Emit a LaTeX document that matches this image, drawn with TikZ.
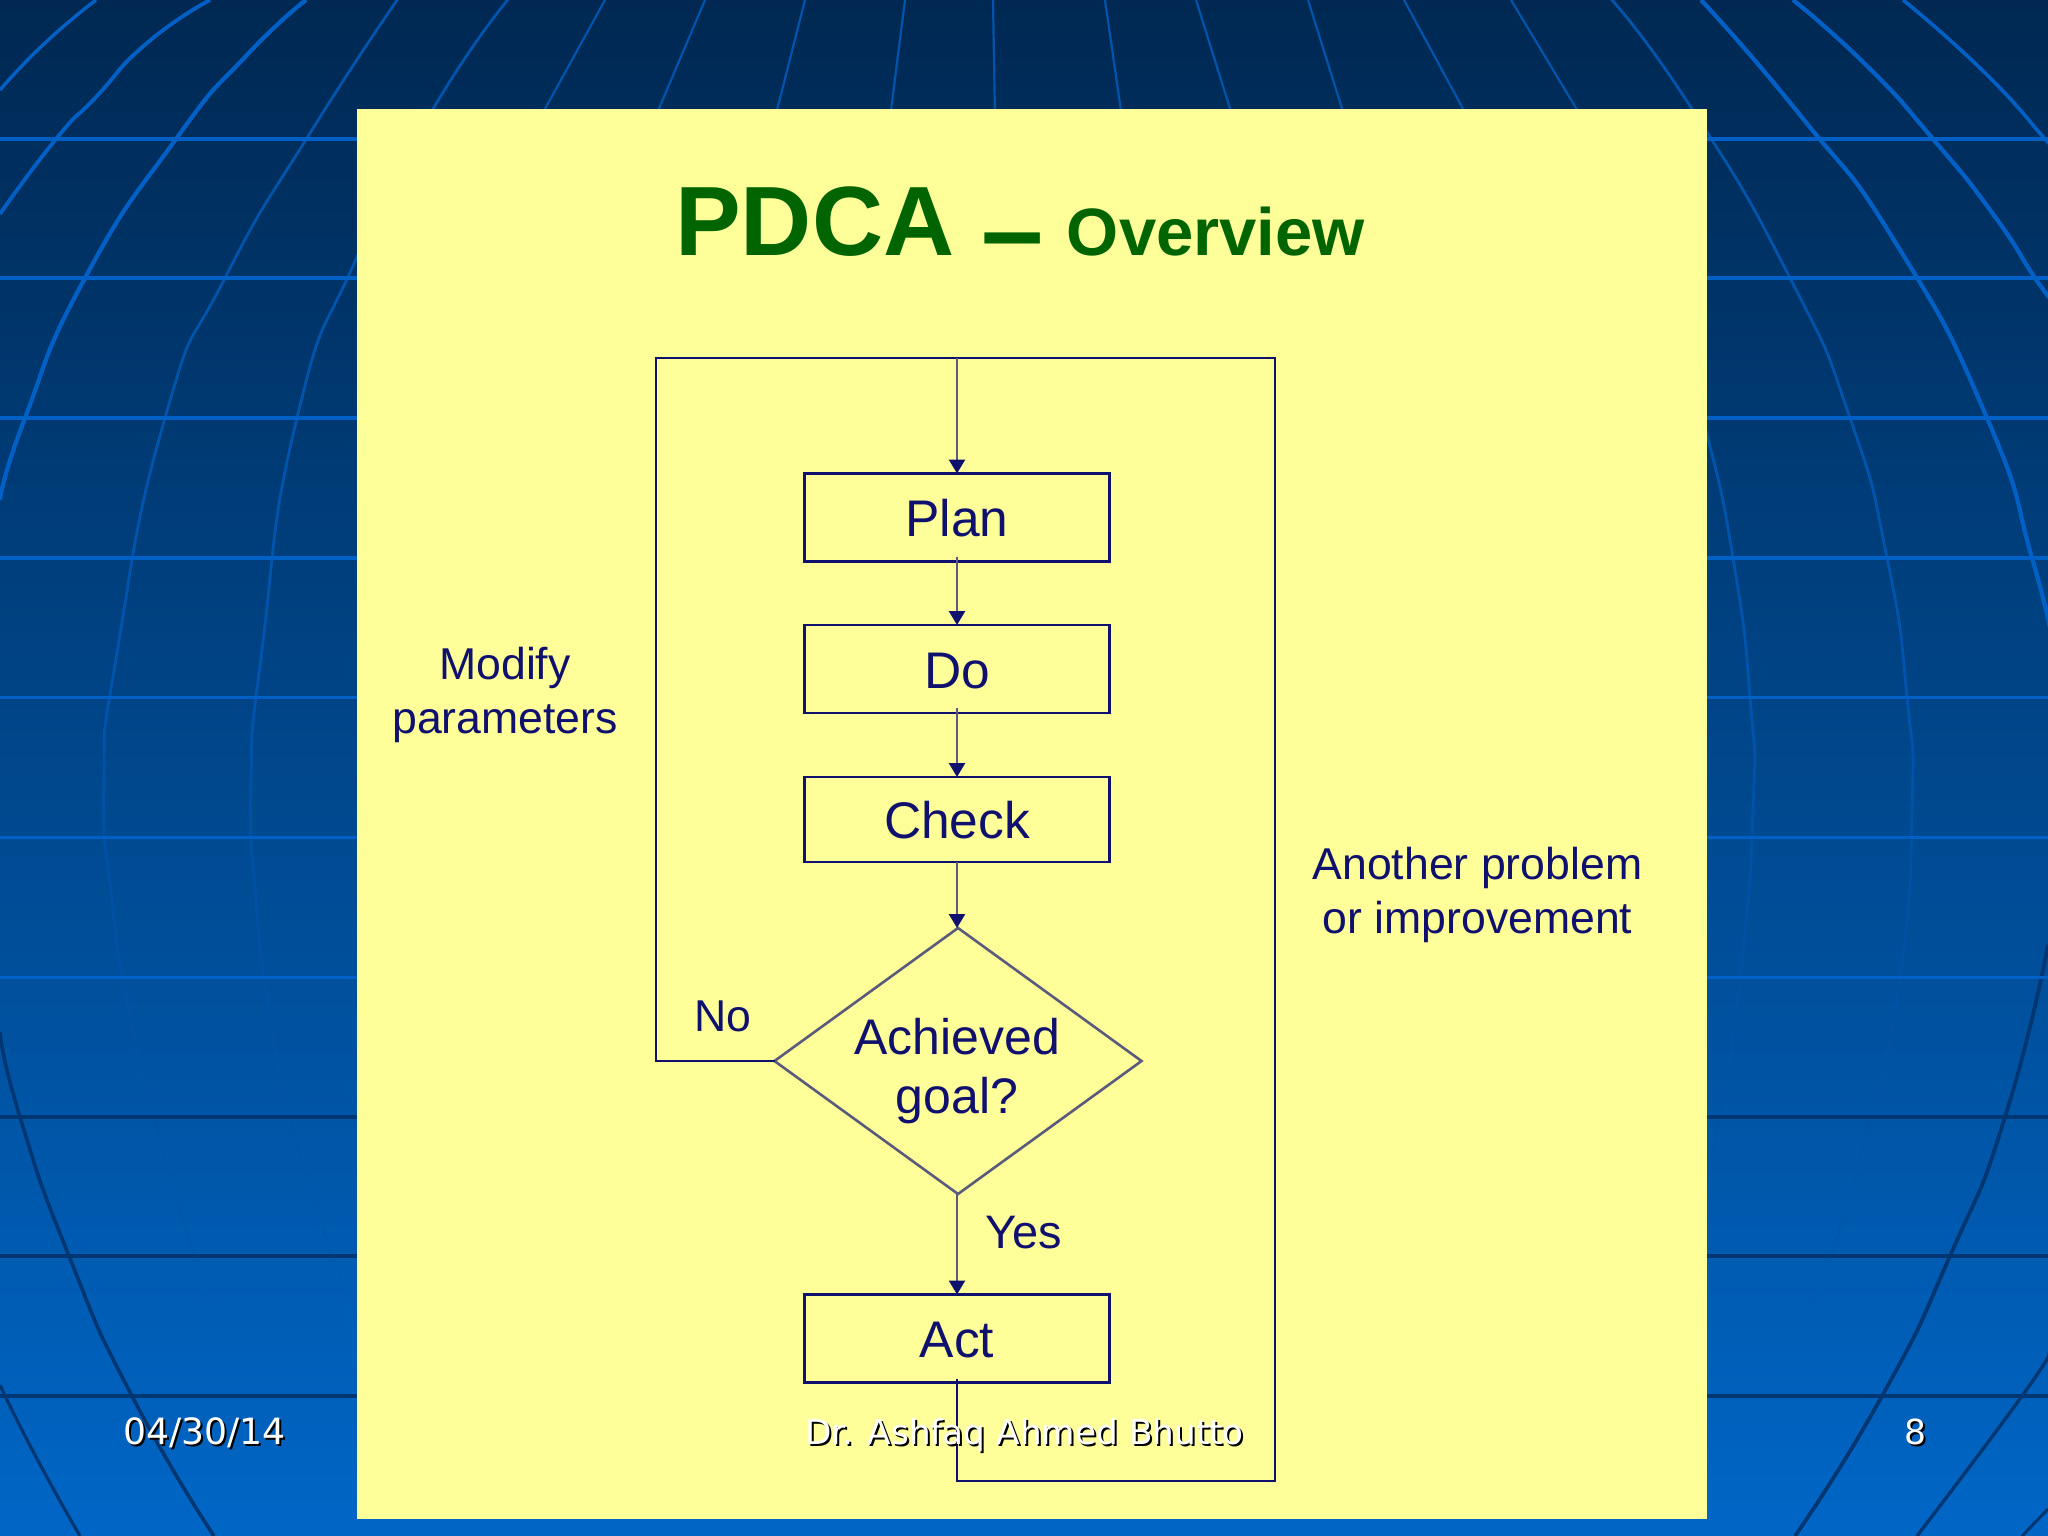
\documentclass[tikz,border=0pt]{standalone}
\usepackage{fontspec}
\setmainfont{Liberation Sans}
\newfontfamily\footfont{DejaVu Sans}
\usetikzlibrary{arrows.meta,shapes.geometric}
\definecolor{skytop}{RGB}{0,40,82}
\definecolor{skymiddle}{RGB}{0,70,136}
\definecolor{skybottom}{RGB}{0,102,198}
\definecolor{gridbright}{RGB}{0,96,198}
\definecolor{gridmid}{RGB}{0,84,172}
\definecolor{griddark}{RGB}{0,54,114}
\definecolor{panelyellow}{RGB}{255,255,153}
\definecolor{inkblue}{RGB}{16,16,110}
\definecolor{thinblue}{RGB}{90,90,125}
\definecolor{titlegreen}{RGB}{0,100,0}
\tikzset{
  flowbox/.style={draw=inkblue,line width=2.9pt,minimum width=305pt,minimum height=88pt,inner sep=0pt,outer sep=0pt,
    text=inkblue,text height=38pt,text depth=0pt,font=\fontsize{51.5}{59}\selectfont},
  decision/.style={diamond,draw=thinblue,line width=2.6pt,aspect=1.38,minimum width=367pt,minimum height=266pt,inner sep=0pt,outer sep=0pt},
  flowlabel/.style={text=inkblue,inner sep=0pt,outer sep=0pt,align=center,font=\fontsize{44.6}{53.5}\selectfont},
  flowarrow/.style={draw=thinblue,line width=2.6pt,-{Triangle[length=14pt,width=16pt,color=inkblue]}},
  loopline/.style={draw=inkblue,line width=2.7pt,line join=miter},
  foottext/.style={inner sep=0pt,outer sep=0pt,anchor=base west},
  curve/.style={smooth,tension=1}
}
\newcommand{\fadepaths}[1]{%
  \draw[#1] plot[curve] coordinates {(400,-4) (312,130) (225,278) (165,418) (117,653) (104,783) (112,900) (127,1000) (154,1117) (192,1250) (219,1330)};
  \draw[#1] plot[curve] coordinates {(511,-4) (433,109) (357,257) (297,418) (262,650) (251,783) (256,900) (268,1000) (290,1117) (330,1250) (357,1320)};
  \draw[#1] plot[curve] coordinates {(1610,-2) (1692,109) (1790,278) (1850,418) (1887,558) (1907,697) (1912,810) (1900,977) (1870,1117) (1833,1250) (1793,1345)};
  \draw[#1] plot[curve] coordinates {(1690,390) (1707,435) (1733,558) (1750,697) (1753,810) (1740,977) (1717,1130) (1695,1230)};
}
\newcommand{\shadowtext}[3]{%
  \node[foottext,text=black,font=\footfont\fontsize{#3}{40}\selectfont] at (#1+2,1444+2) {#2};
  \node[foottext,text=white,font=\footfont\fontsize{#3}{40}\selectfont] at (#1,1444) {#2};
}
\begin{document}
\begin{tikzpicture}[x=1pt,y=-1pt]
\useasboundingbox (0,0) rectangle (2048,1536);
\begin{scope}
\clip (0,0) rectangle (2048,1536);
\shade[top color=skytop,middle color=skymiddle,bottom color=skybottom] (0,0) rectangle (2048,1536);
% bright outer meridians
\draw[gridbright,line width=3.4] plot[curve] coordinates {(96,0) (45,43) (0,90)};
\draw[gridbright,line width=3.8] plot[curve] coordinates {(210,0) (147,43) (96,97) (56,139) (0,214)};
\draw[gridbright,line width=4.2] plot[curve] coordinates {(306,0) (245,57) (176,139) (85,278) (25,418) (0,500)};
\draw[gridbright,line width=3.6] plot[curve] coordinates {(1903,0) (1983,71) (2045,139) (2052,147)};
\draw[gridbright,line width=4.2] plot[curve] coordinates {(1793,0) (1867,66) (1933,139) (1993,214) (2035,278) (2052,300)};
\draw[gridbright,line width=4.2] plot[curve] coordinates {(1701,0) (1800,115) (1897,245) (1987,418) (2032,558) (2052,640)};
% thin meridians at the top
\foreach \xa/\xb in {605/540,705/655,805/775,905/890,993/995,1105/1122,1196/1233,1308/1345,1404/1468,1511/1582}
  \draw[gridmid,line width=2.2] (\xa,0) -- (\xb,118);
% fading meridians
\begin{scope}
  \clip (-10,-10) rectangle (2060,701);
  \fadepaths{gridmid,line width=2.8}
\end{scope}
\foreach \yy in {700,710,...,1340}{%
  \pgfmathsetmacro\pp{max(0,min(1,(1320-\yy)/620))}
  \pgfmathsetmacro\ff{\yy/1536}
  \pgfmathtruncatemacro\gg{\pp*84+(1-\pp)*(40+62*\ff)}
  \pgfmathtruncatemacro\bb{\pp*172+(1-\pp)*(82+116*\ff)}
  \definecolor{bandc}{RGB}{0,\gg,\bb}
  \begin{scope}
    \clip (-10,\yy) rectangle (2060,\yy+11);
    \fadepaths{bandc,line width=2.8}
  \end{scope}
}
% dark meridians
\draw[griddark,line width=3.6] plot[curve] coordinates {(0,1032) (20,1117) (69,1256) (132,1396) (214,1536)};
\draw[griddark,line width=3.2] plot[curve] coordinates {(0,1385) (35,1455) (80,1536)};
\draw[griddark,line width=3.8] plot[curve] coordinates {(2048,945) (2005,1117) (1950,1256) (1882,1396) (1795,1536)};
\draw[griddark,line width=3.4] plot[curve] coordinates {(2048,1354) (2022,1396) (1917,1536)};
\draw[griddark,line width=3] (2048,1509) -- (2022,1536);
% latitude lines
\foreach \yy/\ww in {139/3.8,278/3.6,418/3.4,558/3.2,697/3,837/3,977/3}
  \draw[gridbright,line width=\ww] (0,\yy) -- (2048,\yy);
\foreach \yy/\ww in {1117/3.2,1256/3.2,1396/3.2}
  \draw[griddark,line width=\ww] (0,\yy) -- (2048,\yy);
\end{scope}
% panel
\fill[panelyellow] (357,109) rectangle (1707,1519);
% title
\node[anchor=base west,inner sep=0pt,text=titlegreen] (title) at (675,255)
  {\bfseries\fontsize{98.5}{98.5}\selectfont PDCA \raisebox{-13pt}{\fontsize{112}{112}\selectfont –}{\fontsize{67}{67}\selectfont\hspace{4.4pt} Overview}};
% flow nodes
\node[flowbox] (plan) at (957,517.5) {Plan};
\node[flowbox] (do) at (957,669) {Do};
\node[flowbox,minimum height=85pt] (check) at (957,819.5) {Check};
\node[decision] (goal) at (958,1061) {};
\node[text=inkblue,inner sep=0pt,align=center,font=\fontsize{50}{59}\selectfont] (goaltext) at (957,1071) {Achieved\\goal?};
\node[flowbox] (act) at (957,1338.5) {Act};
% free corners of the loop
\coordinate (topmid) at (957,358);
\coordinate (tl) at (656,358);
\coordinate (tr) at (1275,358);
\coordinate (br) at (1275,1481);
\coordinate (bm) at (957,1481);
\coordinate (bl) at (656,1061);
% connectors
\draw[loopline] (goal.west) -- (bl) -- (tl) -- (tr) -- (br) -- (bm) -- ([yshift=4pt]act.south);
\draw[flowarrow] (topmid) -- (plan.north);
\draw[flowarrow] ([yshift=5pt]plan.south) -- (do.north);
\draw[flowarrow] ([yshift=5pt]do.south) -- (check.north);
\draw[flowarrow] (check.south) -- ([xshift=-1pt]goal.north);
\draw[flowarrow] ([xshift=-1pt]goal.south) -- (act.north);
% labels
\node[flowlabel] (modify) at (505,695) {Modify\\parameters};
\node[flowlabel] (another) at (1477.5,895) {Another problem\\or improvement};
\node[flowlabel,anchor=base] (no) at (723,1031) {No};
\node[flowlabel,anchor=base,font=\fontsize{47}{50}\selectfont] (yes) at (1024,1248) {Yes};
% footer
\shadowtext{123}{04/30/14}{36.2}
\shadowtext{805}{Dr. Ashfaq Ahmed Bhutto}{34.3}
\shadowtext{1904}{8}{34.5}
\end{tikzpicture}
\end{document}
